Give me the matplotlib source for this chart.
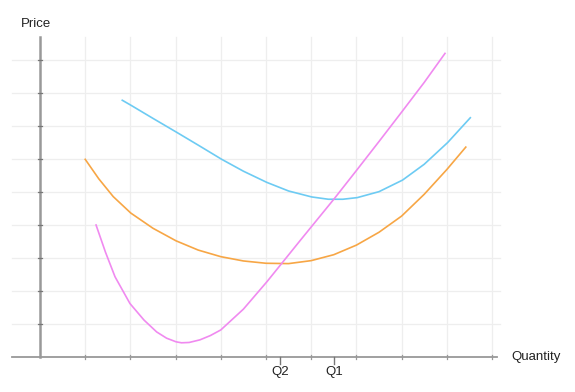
import matplotlib.pyplot as plt
import numpy as np

plt.rcParams['font.family'] = ['Liberation Sans', 'DejaVu Sans']

# curves (quantity, price)
mc_x = [1.82, 2.01, 2.5, 3.01, 3.5, 4.02, 4.5, 5.02, 5.5, 6.01, 6.38, 6.7, 7.02, 7.5, 8.02, 8.5, 9.02, 9.52]
mc_y = [7.78, 7.63, 7.23, 6.82, 6.42, 5.99, 5.63, 5.29, 5.03, 4.85, 4.78, 4.78, 4.83, 5.01, 5.36, 5.84, 6.50, 7.25]

avc_x = [1.0, 1.3, 1.62, 2.01, 2.5, 3.01, 3.5, 4.0, 4.5, 5.0, 5.5, 6.0, 6.5, 7.0, 7.5, 8.0, 8.5, 9.0, 9.42]
avc_y = [5.99, 5.40, 4.86, 4.36, 3.90, 3.52, 3.24, 3.04, 2.91, 2.84, 2.83, 2.92, 3.10, 3.39, 3.78, 4.27, 4.93, 5.68, 6.36]

pk_x = [1.24, 1.45, 1.66, 1.99, 2.3, 2.58, 2.8, 3.01, 3.13, 3.3, 3.54, 3.77, 4.0, 4.5, 5.02, 5.35, 5.75, 6.5, 7.0, 7.5, 8.0, 8.5, 8.96]
pk_y = [4.00, 3.17, 2.43, 1.62, 1.12, 0.76, 0.57, 0.46, 0.43, 0.44, 0.52, 0.65, 0.82, 1.45, 2.28, 2.84, 3.52, 4.78, 5.65, 6.53, 7.42, 8.32, 9.20]

q_ticks = [5.31, 6.5]
q_labels = ['Q2', 'Q1']

fig = plt.figure(figsize=(5.75, 3.92), dpi=100)
ax = fig.add_axes([0, 0, 1, 1])
ax.set_xlim(-0.885, 11.836)
ax.set_ylim(-1.061, 10.818)
ax.axis('off')

# grid
for gx in range(1, 11):
    ax.plot([gx, gx], [0, 9.7], color='#eeeeee', lw=0.9, zorder=1)
for gy in range(1, 10):
    ax.plot([-0.62, 10.18], [gy, gy], color='#eeeeee', lw=0.9, zorder=1)

# axes
ax.plot([0, 0], [0, 9.7], color='#999999', lw=1.8, zorder=3)
ax.plot([-0.62, 10.1], [0, 0], color='#999999', lw=1.3, zorder=3)
for gx in range(1, 11):
    ax.plot([gx, gx], [-0.06, 0.06], color='#999999', lw=0.9, zorder=3)
for gy in range(1, 10):
    ax.plot([-0.05, 0.05], [gy, gy], color='#777777', lw=0.9, zorder=3)
for qx, ql in zip(q_ticks, q_labels):
    ax.plot([qx, qx], [0, -0.2], color='#777777', lw=1.0, zorder=3)
    ax.text(qx, -0.27, ql, ha='center', va='top', fontsize=9.5, color='#222222')

ax.text(-0.42, 9.9, 'Price', ha='left', va='bottom', fontsize=9.5, color='#222222')
ax.text(10.43, 0.0, 'Quantity', ha='left', va='center', fontsize=9.5, color='#222222')

# curves
ax.plot(mc_x, mc_y, color='#6dcbf3', lw=1.2, zorder=4, solid_joinstyle='round')
ax.plot(avc_x, avc_y, color='#f7a645', lw=1.2, zorder=4, solid_joinstyle='round')
ax.plot(pk_x, pk_y, color='#f08af0', lw=1.2, zorder=4, solid_joinstyle='round')

fig.savefig('out.png', dpi=100)
